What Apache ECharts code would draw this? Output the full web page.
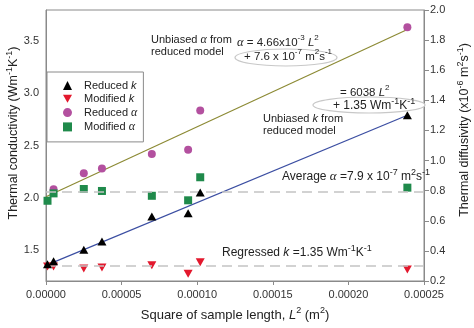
<!DOCTYPE html>
<html><head><meta charset="utf-8">
<script src="https://cdn.jsdelivr.net/npm/echarts@6/dist/echarts.min.js"></script>
<style>html,body{margin:0;padding:0;background:#fff}#c{width:474px;height:328px}</style>
</head><body><div id="c"></div>
<script>
// ---- data ----
const L2 = [0.000001, 0.000005, 0.000025, 0.000037, 0.000070, 0.000094, 0.000102, 0.000239];
const reducedK = [1.36, 1.39, 1.50, 1.58, 1.82, 1.85, 2.05, 2.79];
const modifiedK = [1.34, 1.34, 1.32, 1.33, 1.35, 1.27, 1.38, 1.31];
const reducedAlpha = [null, 0.81, 0.915, 0.948, 1.043, 1.072, 1.333, 1.885];
const modifiedAlpha = [0.733, 0.782, 0.811, 0.798, 0.766, 0.736, 0.889, 0.82];
const fitL2 = [0, 0.000239];
const kFit = [1.35, 2.79];
const alphaFit = [0.76, 1.87];
const kRegressed = 1.35;
const alphaAverage = 0.79;
const xTicks = [0, 0.00005, 0.0001, 0.00015, 0.0002, 0.00025];
const leftTicks = [1.5, 2.0, 2.5, 3.0, 3.5];
const rightTicks = [0.2, 0.4, 0.6, 0.8, 1.0, 1.2, 1.4, 1.6, 1.8, 2.0];
const seriesNames = ['Reduced k', 'Modified k', 'Reduced α', 'Modified α'];

const FONT = 'Liberation Sans, Arial, sans-serif';
const SERIF = 'Liberation Serif, DejaVu Serif, serif';
const TXT = '#222';
const pair = (xs, ys) => xs.map((x, i) => [x, ys[i]]);

// rich styles with raised superscripts
const rich = (fs, sfs) => {
  const P = Math.round(fs * 0.28);
  const lh = fs + 2;
  const sf = sfs || Math.round(fs * 0.72);
  return {
    n: {fontSize: fs, fontFamily: FONT, color: TXT, lineHeight: lh, padding: [P, 0, 0, 0]},
    i: {fontSize: fs, fontFamily: FONT, fontStyle: 'italic', color: TXT, lineHeight: lh, padding: [P, 0, 0, 0]},
    g: {fontSize: fs + 1, fontFamily: SERIF, fontStyle: 'italic', color: TXT, lineHeight: lh, padding: [P, 0, 0, 0]},
    s: {fontSize: sf, fontFamily: FONT, color: TXT, lineHeight: sf + 1, verticalAlign: 'top'}
  };
};

function txt(x, y, text, fs, align, rot, sfs) {
  return {
    type: 'text', x: x, y: y, z: 20, rotation: rot || 0,
    style: {text: text, rich: rich(fs, sfs), fontSize: fs, fontFamily: FONT, fill: TXT,
      align: align || 'left', verticalAlign: 'middle'}
  };
}

const legendRich = {
  n: {fontSize: 11, fontFamily: FONT, color: TXT, lineHeight: 12, padding: [0, 0, 0, 7]},
  i: {fontSize: 11, fontFamily: FONT, fontStyle: 'italic', color: TXT, lineHeight: 12},
  g: {fontSize: 12, fontFamily: SERIF, fontStyle: 'italic', color: TXT, lineHeight: 12}
};

const chart = echarts.init(document.getElementById('c'));
chart.setOption({
  animation: false,
  backgroundColor: '#fff',
  grid: {left: 46, right: 50, top: 10, bottom: 47, show: true, borderColor: '#8a8a8a', borderWidth: 1},
  xAxis: {
    type: 'value', min: xTicks[0], max: xTicks[xTicks.length - 1], interval: xTicks[1] - xTicks[0],
    name: '{n|Square of sample length, }{i|L}{s|2}{n| (m}{s|2}{n|)}',
    nameLocation: 'middle', nameGap: 20,
    nameTextStyle: {rich: rich(13)},
    axisLine: {lineStyle: {color: '#8a8a8a'}},
    axisTick: {show: true, length: 4, lineStyle: {color: '#8a8a8a'}},
    splitLine: {show: false},
    axisLabel: {color: '#333', fontSize: 11, fontFamily: FONT, margin: 8,
      formatter: v => v.toFixed(5)}
  },
  yAxis: [{
    type: 'value', min: 1.2, max: 3.8, interval: 0.1, position: 'left',
    axisLine: {show: true, lineStyle: {color: '#8a8a8a'}},
    axisTick: {show: false},
    splitLine: {show: false},
    axisLabel: {color: '#333', fontSize: 11, fontFamily: FONT, margin: 7, showMinLabel: true, showMaxLabel: true,
      formatter: v => leftTicks.some(t => Math.abs(t - v) < 1e-6) ? v.toFixed(1) : ''}
  }, {
    type: 'value', min: rightTicks[0], max: rightTicks[rightTicks.length - 1], interval: 0.2, position: 'right',
    axisLine: {show: true, lineStyle: {color: '#8a8a8a'}},
    axisTick: {show: true, length: 5, lineStyle: {color: '#8a8a8a'}},
    splitLine: {show: false},
    axisLabel: {color: '#333', fontSize: 11, fontFamily: FONT, margin: 6, formatter: v => v.toFixed(1)}
  }],
  legend: {
    data: seriesNames,
    orient: 'vertical', left: 47, top: 72,
    padding: [8, 6, 9, 16], itemGap: 2.3, itemWidth: 9, itemHeight: 9,
    backgroundColor: '#fff', borderColor: '#8a8a8a', borderWidth: 1,
    textStyle: {rich: legendRich, fontSize: 11, fontFamily: FONT, color: TXT},
    formatter: name => {
      const parts = name.split(' ');
      const last = parts.pop();
      return '{n|' + parts.join(' ') + ' }' + (last === 'α' ? '{g|α}' : '{i|' + last + '}');
    },
    z: 30
  },
  graphic: [
    {type: 'ellipse', z: 15, shape: {cx: 286, cy: 57.5, rx: 51, ry: 8.5}, style: {fill: '#fff', stroke: '#c8c8c8', lineWidth: 1.2}},
    {type: 'ellipse', z: 15, shape: {cx: 369, cy: 105, rx: 56, ry: 8}, style: {fill: '#fff', stroke: '#c8c8c8', lineWidth: 1.2}},
    txt(151, 38, '{n|Unbiased }{g|α}{n| from}', 11),
    txt(151, 50, '{n|reduced model}', 11),
    txt(237, 41, '{g|α}{n| = 4.66x10}{s|-3}{n| }{i|L}{s|2}', 11.5),
    txt(244, 55, '{n|+ 7.6 x 10}{s|-7}{n| m}{s|2}{n|s}{s|-1}', 11.5),
    txt(340, 91, '{n|= 6038 }{i|L}{s|2}', 11.5),
    txt(333, 104, '{n|+ 1.35 Wm}{s|-1}{n|K}{s|-1}', 12),
    txt(263, 117, '{n|Unbiased }{i|k}{n| from}', 11),
    txt(263, 129, '{n|reduced model}', 11),
    txt(282, 175, '{n|Average }{g|α}{n| =7.9 x 10}{s|-7}{n| m}{s|2}{n|s}{s|-1}', 12),
    txt(222, 251, '{n|Regressed }{i|k}{n| =1.35 Wm}{s|-1}{n|K}{s|-1}', 12),
    txt(12, 133, '{n|Thermal conductivity (Wm}{s|-1}{n|K}{s|-1}{n|)}', 12.5, 'center', Math.PI / 2, 9),
    txt(463, 130, '{n|Thermal diffusivity (x10}{s|-6}{n| m}{s|2}{n|s}{s|-1}{n|)}', 12.5, 'center', Math.PI / 2, 9)
  ],
  series: [
    {
      type: 'line', name: 'kFit', data: pair(fitL2, kFit), yAxisIndex: 0, symbol: 'none', z: 2,
      lineStyle: {color: '#3b4ea2', width: 1.2}, silent: true,
      markLine: {silent: true, symbol: 'none', label: {show: false},
        lineStyle: {color: '#c4c4c4', width: 1.5, type: [10, 6]}, data: [{yAxis: kRegressed}]}
    },
    {
      type: 'line', name: 'alphaFit', data: pair(fitL2, alphaFit), yAxisIndex: 1, symbol: 'none', z: 2,
      lineStyle: {color: '#8c8a34', width: 1.2}, silent: true,
      markLine: {silent: true, symbol: 'none', label: {show: false},
        lineStyle: {color: '#c4c4c4', width: 1.5, type: [10, 6]}, data: [{yAxis: alphaAverage}]}
    },
    {type: 'scatter', name: seriesNames[2], data: pair(L2, reducedAlpha), yAxisIndex: 1, symbol: 'circle', symbolSize: 8, z: 3,
      itemStyle: {color: '#b3509f', opacity: 1}},
    {type: 'scatter', name: seriesNames[3], data: pair(L2, modifiedAlpha), yAxisIndex: 1, symbol: 'rect', symbolSize: 8, z: 3,
      itemStyle: {color: '#1f8a4b', opacity: 1}},
    {type: 'scatter', name: seriesNames[1], data: pair(L2, modifiedK), yAxisIndex: 0, symbol: 'path://M0,0L10,0L5,9Z', symbolSize: [9, 8], z: 4,
      itemStyle: {color: '#e3182d', opacity: 1}},
    {type: 'scatter', name: seriesNames[0], data: pair(L2, reducedK), yAxisIndex: 0, symbol: 'triangle', symbolSize: [9, 8], z: 5,
      itemStyle: {color: '#000', opacity: 1}}
  ]
});
</script></body></html>
